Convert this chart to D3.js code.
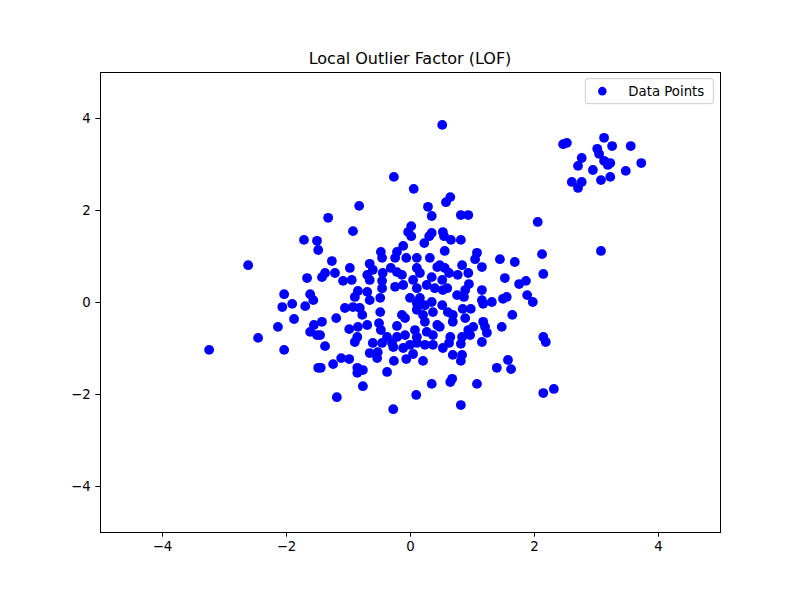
<!DOCTYPE html>
<html>
<head>
<meta charset="utf-8">
<script src="https://cdn.jsdelivr.net/npm/d3@7"></script>
<style>
  html, body { margin: 0; padding: 0; background: #ffffff; }
  svg { display: block; }
  text { font-family: "DejaVu Sans", sans-serif; }
</style>
</head>
<body>
<svg id="chart" width="800" height="600"></svg>
<script>
// ---- data ----
const title = "Local Outlier Factor (LOF)";
const seriesName = "Data Points";
const xTicks = [-4, -2, 0, 2, 4];
const yTicks = [-4, -2, 0, 2, 4];
const xDomain = [-5, 5];
const yDomain = [-5, 5];

const pointsX = [
  // outlying cluster
  2.47, 2.53, 3.13, 3.26, 3.56, 3.02, 3.05, 2.77, 3.13, 3.23, 3.19, 3.73, 2.71, 2.95, 3.48, 3.23, 3.08, 2.61, 2.77, 2.71, 3.08,
  // top part of main cloud
  0.52, -0.26, 0.06, -0.82, -1.32, 0.65, 0.58, 0.29, 0.35, -0.92, 0.02, -0.03, 0.02, 0.35, 0.31, 0.23, -0.11, -0.21, -0.47,
  -1.71, -1.50, -1.48, 0.82, 0.94, 2.06, 0.53, 0.55, 0.66, 0.82, 0.56, 1.08, 2.13,
  // left part
  -2.61, -1.66, -2.03, -1.90, -2.06, -1.61, -1.69, -1.56, -1.87, -2.13, -2.45, -1.55, -1.61, -1.50,
  -3.24, -2.03, -1.48,
  // lower middle
  -1.37, -0.89, -0.60, -0.45, -0.29, -1.24, -1.11, -0.98, -1.44, -0.85, -0.85, -0.76, -0.65, -0.52, -0.53, -0.27, -0.11, 0.00,
  0.11, 0.24, 0.37, 0.05, -0.06, -0.26, 0.21, -0.37, -0.76, -1.18, 0.35, 0.10, -0.27,
  // lower right
  0.53, 0.63, 0.82, 1.16, 2.19, 2.15, 0.69, 0.84, 0.82, 1.40, 1.58, 1.63, 0.68, 0.65, 1.08, 2.15, 2.32, 0.82,
  // right middle
  0.48, 1.05, 1.45, 1.69, 0.84, 1.16, 0.56, 0.63, 0.77, 0.94, 0.52, 1.53, 2.15, 1.76, 1.87, 0.95, 0.89, 0.60, 0.53, 1.16,
  0.76, 0.87, 1.50, 1.56, 1.89, 1.98, 1.16, 1.18, 1.32, 0.52, 0.61, 0.69, 0.69, 0.85, 0.98, 0.89, 1.65, 1.48, 1.18, 1.21,
  1.02, 0.94, 1.24, 0.48, 0.65, 0.84, 0.97,
  // centre
  -1.26, -0.45, -0.24, -0.06, 0.11, 0.32, -1.37, -1.21, -0.97, -0.65, -0.60, -0.44, -0.31, -0.21, -0.13, 0.11, 0.16, 0.35, 0.44,
  -1.42, -1.08, -0.94, -0.69, -0.65, -0.45, -0.24, -0.11, 0.05, 0.11, 0.27, 0.40, -0.45, -0.84, -0.69, -0.89, -0.65, -0.48,
  0.00, 0.16, 0.11, 0.24, 0.35, -1.05, -0.92, -0.81, -0.77, -1.19, -1.42, -0.48, -0.13, -0.08, 0.11, 0.21, 0.37, 0.24, 0.44,
  -0.98, -0.84, -0.69, -0.50, -0.47, -0.21, -0.37, -0.21, -0.08, 0.08, 0.11, 0.27, 0.37, -1.45, -0.85
];
const pointsY = [
  3.43, 3.46, 3.57, 3.39, 3.39, 3.33, 3.22, 3.13, 3.07, 3.02, 2.98, 3.02, 2.96, 2.87, 2.85, 2.72, 2.65, 2.61, 2.61, 2.48, 1.11,
  3.85, 2.72, 2.46, 2.09, 1.83, 2.28, 2.17, 2.07, 1.87, 1.54, 1.65, 1.52, 1.43, 1.50, 1.43, 1.28, 1.22, 1.09, 1.09,
  1.35, 1.33, 1.13, 1.89, 1.89, 1.74, 1.52, 1.43, 1.35, 1.35, 1.11, 1.07, 1.04,
  0.80, 0.52, 0.17, -0.04, -0.11, 0.17, -0.09, 0.04, -0.37, -0.54, -0.78, -0.50, -0.65, -0.72,
  -1.04, -1.04, -1.43,
  -0.96, -0.87, -0.89, -0.89, -0.89, -1.35, -1.22, -1.24, -1.43, -1.43, -1.54, -1.48, -1.11, -1.09, -1.22, -0.98, -1.00, -0.93,
  -0.89, -0.93, -0.93, -1.13, -1.24, -1.28, -1.28, -1.52, -1.83, -2.07, -1.78, -2.02, -2.33,
  -1.00, -0.89, -0.91, -0.87, -0.87, -0.76, -1.15, -1.15, -1.28, -1.43, -1.26, -1.46, -1.67, -1.74, -1.78, -1.98, -1.89, -2.24,
  0.80, 0.93, 0.93, 0.87, 0.80, 0.76, 0.74, 0.63, 0.59, 0.63, 0.48, 0.52, 0.61, 0.39, 0.46, 0.39, 0.26, 0.30, 0.26, 0.26,
  0.15, 0.11, 0.07, 0.11, 0.15, 0.00, 0.04, -0.04, 0.00, -0.07, -0.22, -0.28, -0.43, -0.15, -0.15, -0.35, -0.28, -0.54, -0.43, -0.54,
  -0.54, -0.61, -0.67, -0.54, -0.76, -0.76, -0.72,
  0.89, 0.96, 0.96, 0.96, 0.96, 0.96, 0.63, 0.63, 0.74, 0.83, 0.70, 0.63, 0.74, 0.65, 0.59, 0.74, 0.63, 0.54, 0.76,
  0.54, 0.46, 0.48, 0.59, 0.48, 0.46, 0.33, 0.37, 0.48, 0.30, 0.37, 0.30, 0.30, 0.24, 0.22, 0.11, 0.04, 0.09,
  0.09, 0.09, -0.02, -0.07, 0.00, -0.13, -0.11, -0.13, -0.28, -0.35, -0.43, -0.22, -0.28, -0.35, -0.17, -0.28, -0.22, -0.43, -0.50,
  -0.59, -0.54, -0.50, -0.46, -0.61, -0.52, -0.76, -0.76, -0.72, -0.61, -0.76, -0.65, -0.72, -0.72, -0.76
];

// ---- layout ----
const W = 800, H = 600;
const margin = { left: 100, right: 80, top: 72, bottom: 68 };
const plotW = W - margin.left - margin.right;   // 620
const plotH = H - margin.top - margin.bottom;   // 460

const svg = d3.select("#chart");
svg.append("rect").attr("width", W).attr("height", H).attr("fill", "#ffffff");

const x = d3.scaleLinear().domain(xDomain).range([margin.left, margin.left + plotW]);
const y = d3.scaleLinear().domain(yDomain).range([margin.top + plotH, margin.top]);

// points
const data = pointsX.map((v, i) => ({ x: v, y: pointsY[i] }));
svg.append("g")
  .selectAll("circle")
  .data(data)
  .join("circle")
  .attr("cx", d => x(d.x))
  .attr("cy", d => y(d.y))
  .attr("r", 4.9)
  .attr("fill", "#0000ff");

// axes
const tickLen = 4.67, tickPad = 4.67;
const fmt = d3.format("d");
const xAxis = svg.append("g")
  .attr("transform", `translate(0,${margin.top + plotH})`)
  .call(d3.axisBottom(x).tickValues(xTicks).tickSize(tickLen).tickPadding(tickPad).tickFormat(fmt));
const yAxis = svg.append("g")
  .attr("transform", `translate(${margin.left},0)`)
  .call(d3.axisLeft(y).tickValues(yTicks).tickSize(tickLen).tickPadding(tickPad).tickFormat(fmt));
[xAxis, yAxis].forEach(g => {
  g.select(".domain").remove();
  g.selectAll("line").attr("stroke", "#000").attr("stroke-width", 1);
  g.selectAll("text").attr("font-size", 13.3).attr("fill", "#000")
    .attr("font-family", "'DejaVu Sans', sans-serif");
});

// frame
svg.append("rect")
  .attr("x", margin.left).attr("y", margin.top)
  .attr("width", plotW).attr("height", plotH)
  .attr("fill", "none").attr("stroke", "#000").attr("stroke-width", 1)
  .attr("shape-rendering", "crispEdges");

// title
svg.append("text")
  .attr("x", margin.left + plotW / 2)
  .attr("y", margin.top - 8)
  .attr("text-anchor", "middle")
  .attr("font-size", 16)
  .attr("fill", "#000")
  .text(title);

// legend
const lg = svg.append("g").attr("transform", `translate(${margin.left + plotW - 6.67},${margin.top + 6.67})`);
const lgW = 128, lgH = 25;
lg.append("rect")
  .attr("x", -lgW).attr("y", 0).attr("width", lgW).attr("height", lgH)
  .attr("rx", 2.5).attr("fill", "#ffffff").attr("fill-opacity", 0.8)
  .attr("stroke", "#cccccc").attr("stroke-width", 1);
lg.append("circle")
  .attr("cx", -lgW + 17).attr("cy", lgH / 2)
  .attr("r", 4.3).attr("fill", "#0000ff");
lg.append("text")
  .attr("x", -lgW + 43).attr("y", lgH / 2 + 4.7)
  .attr("font-size", 13.3).attr("fill", "#000")
  .text(seriesName);
</script>
</body>
</html>
